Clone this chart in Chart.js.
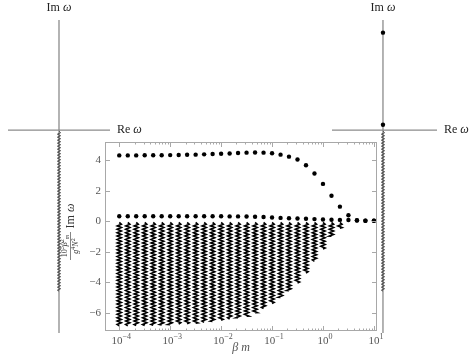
<!DOCTYPE html>
<html>
<head>
<meta charset="utf-8">
<script src="https://cdn.jsdelivr.net/npm/chart.js@4.4.0/dist/chart.umd.min.js"></script>
<style>
  body { margin: 0; background: #fff; }
  #wrap { position: relative; width: 474px; height: 355px; }
  canvas { position: absolute; top: 0; }
</style>
</head>
<body>
<div id="wrap">
  <canvas id="leftPlane" width="160" height="355" style="left:0"></canvas>
  <canvas id="rightPlane" width="154" height="355" style="left:320px"></canvas>
  <canvas id="main" width="474" height="355" style="left:0"></canvas>
</div>
<script>
/* beta m grid (6 per decade) */
const betaM = [
  1e-4, 1.47e-4, 2.15e-4, 3.16e-4, 4.64e-4, 6.81e-4,
  1e-3, 1.47e-3, 2.15e-3, 3.16e-3, 4.64e-3, 6.81e-3,
  1e-2, 1.47e-2, 2.15e-2, 3.16e-2, 4.64e-2, 6.81e-2,
  0.1, 0.147, 0.215, 0.316, 0.464, 0.681,
  1, 1.47, 2.15, 3.16, 4.64, 6.81, 10
];
/* growing modes */
const upperMode = [4.32, 4.32, 4.32, 4.33, 4.33, 4.33, 4.34, 4.35, 4.36, 4.37, 4.39, 4.41, 4.43, 4.45, 4.48, 4.50,
                   4.51, 4.50, 4.46, 4.37, 4.24, 4.05, 3.67, 3.13, 2.45, 1.67, 0.96, 0.39, 0.07, 0.03, 0.03];
const lowerMode = [0.33, 0.33, 0.33, 0.33, 0.33, 0.33, 0.33, 0.33, 0.33, 0.33, 0.33, 0.33, 0.33, 0.32, 0.32, 0.31,
                   0.30, 0.28, 0.25, 0.22, 0.20, 0.18, 0.16, 0.14, 0.12, 0.10, 0.09, 0.08, 0.05, 0.03, 0.03];
/* branch cut (continuum) extent per column */
const cutTop = [-0.08, -0.08, -0.08, -0.08, -0.08, -0.08, -0.08, -0.08, -0.08, -0.08, -0.08, -0.08, -0.08, -0.08,
                -0.08, -0.08, -0.08, -0.08, -0.08, -0.08, -0.08, -0.08, -0.08, -0.08, -0.08, -0.08, -0.08];
const cutBottom = [-6.85, -6.85, -6.84, -6.83, -6.82, -6.80, -6.78, -6.75, -6.72, -6.68, -6.63, -6.57, -6.50, -6.42,
                   -6.33, -6.22, -6.00, -5.73, -5.40, -5.00, -4.55, -4.05, -3.40, -2.62, -1.81, -0.98, -0.45];
const yTicks = [-6, -4, -2, 0, 2, 4];
const xDecades = [-4, -3, -2, -1, 0, 1];

/* sketches of the complex plane */
const planeCutEnd = -1.46;
const rightPoles = [0.885, 0.05];

const SERIF = "'Liberation Serif', 'DejaVu Serif', serif";

function zigzag(ctx, x, y0, y1, amp, half) {
  ctx.beginPath();
  ctx.moveTo(x, y0);
  let s = 1;
  for (let yy = y0 + half; yy < y1; yy += half) {
    ctx.lineTo(x + s * amp, yy);
    s = -s;
  }
  ctx.lineTo(x, y1);
  ctx.stroke();
}

// draw a run of text pieces, each with its own font and vertical shift
function drawParts(ctx, parts, x, y, align) {
  let w = 0;
  parts.forEach(p => { ctx.font = p.font; w += ctx.measureText(p.t).width; });
  let cx = align === 'center' ? x - w / 2 : align === 'right' ? x - w : x;
  ctx.textAlign = 'left';
  ctx.textBaseline = 'middle';
  parts.forEach(p => {
    ctx.font = p.font;
    ctx.fillText(p.t, cx, y + (p.dy || 0));
    cx += ctx.measureText(p.t).width;
  });
}

function omegaLabel(head) {
  return [{ t: head + ' ', font: '12px ' + SERIF }, { t: 'ω', font: 'italic 12px ' + SERIF }];
}

function planePlugin() {
  return {
    id: 'plane',
    beforeDatasetsDraw(chart) {
      const { ctx, chartArea: a, scales: { x, y } } = chart;
      const x0 = x.getPixelForValue(0), y0 = y.getPixelForValue(0);
      ctx.save();
      ctx.strokeStyle = '#8c8c8c';
      ctx.lineWidth = 1.3;
      ctx.beginPath();
      ctx.moveTo(a.left, y0); ctx.lineTo(a.right, y0);
      ctx.moveTo(x0, a.top); ctx.lineTo(x0, a.bottom);
      ctx.stroke();
      ctx.strokeStyle = '#3a3a3a';
      ctx.lineWidth = 0.9;
      zigzag(ctx, x0, y0 + 1, y.getPixelForValue(planeCutEnd), 1.6, 1.5);
      ctx.fillStyle = '#222';
      drawParts(ctx, omegaLabel('Im'), x0, a.top - 12, 'center');
      drawParts(ctx, omegaLabel('Re'), a.right + 7, y0, 'left');
      ctx.restore();
    }
  };
}

function planeChart(id, pad, xMax, poles) {
  return new Chart(document.getElementById(id), {
    type: 'scatter',
    data: {
      datasets: [{
        data: poles.map(v => ({ x: 0, y: v })),
        pointRadius: 2.2,
        backgroundColor: '#000',
        borderWidth: 0
      }]
    },
    options: {
      responsive: false,
      animation: false,
      layout: { padding: pad },
      plugins: { legend: { display: false }, tooltip: { enabled: false } },
      scales: {
        x: { display: false, min: -1, max: xMax },
        y: { display: false, min: -1.84, max: 1 }
      }
    },
    plugins: [planePlugin()]
  });
}

planeChart('leftPlane', { left: 8, right: 50, top: 20, bottom: 22 }, 1, []);
planeChart('rightPlane', { left: 12, right: 37, top: 20, bottom: 22 }, 1.06, rightPoles);

/* main panel: frame, ticks, labels and the branch cuts */
const panel = {
  id: 'panel',
  beforeDatasetsDraw(chart) {
    const { ctx, chartArea: a, scales: { x, y } } = chart;
    ctx.save();
    ctx.fillStyle = '#fff';
    ctx.fillRect(a.left, a.top, a.width, a.height);
    ctx.strokeStyle = '#000';
    ctx.lineWidth = 1.7;
    cutBottom.forEach((b, i) => {
      zigzag(ctx, x.getPixelForValue(betaM[i]), y.getPixelForValue(cutTop[i]), y.getPixelForValue(b), 2, 1.7);
    });
    ctx.restore();
  },
  afterDatasetsDraw(chart) {
    const { ctx, chartArea: a, scales: { x, y } } = chart;
    ctx.save();
    ctx.strokeStyle = '#a8a8a8';
    ctx.lineWidth = 1;
    ctx.strokeRect(a.left + 0.5, a.top + 0.5, a.width - 1, a.height - 1);
    ctx.beginPath();
    xDecades.forEach(d => {
      for (let m = 1; m < 10; m++) {
        const v = m * Math.pow(10, d);
        const px = Math.round(x.getPixelForValue(v)) + 0.5;
        if (px < a.left || px > a.right) continue;
        const len = m === 1 ? 5 : 2.5;
        ctx.moveTo(px, a.bottom); ctx.lineTo(px, a.bottom - len);
        ctx.moveTo(px, a.top); ctx.lineTo(px, a.top + len);
      }
    });
    yTicks.forEach(v => {
      const py = Math.round(y.getPixelForValue(v)) + 0.5;
      ctx.moveTo(a.left, py); ctx.lineTo(a.left + 5, py);
      ctx.moveTo(a.right, py); ctx.lineTo(a.right - 5, py);
    });
    ctx.stroke();

    ctx.fillStyle = '#555';
    yTicks.forEach(v => {
      const t = v < 0 ? '−' + Math.abs(v) : String(v);
      drawParts(ctx, [{ t, font: '11px ' + SERIF }], a.left - 4, y.getPixelForValue(v), 'right');
    });
    xDecades.forEach(d => {
      const e = d < 0 ? '−' + Math.abs(d) : String(d);
      drawParts(ctx, [{ t: '10', font: '11px ' + SERIF }, { t: e, font: '8px ' + SERIF, dy: -4 }],
        x.getPixelForValue(Math.pow(10, d)) + 2, a.bottom + 10, 'center');
    });
    drawParts(ctx, [{ t: 'β m', font: 'italic 12px ' + SERIF }], (a.left + a.right) / 2, a.bottom + 17, 'center');

    // rotated y title: fraction then Im ω
    ctx.translate(70, 238);
    ctx.rotate(-Math.PI / 2);
    ctx.fillStyle = '#333';
    drawParts(ctx, [{ t: '10', font: '8px ' + SERIF }, { t: '5', font: '6px ' + SERIF, dy: -3 },
      { t: 'β', font: 'italic 8px ' + SERIF }, { t: '2', font: '6px ' + SERIF, dy: -3 },
      { t: 'm', font: 'italic 6px ' + SERIF, dy: 2 }], -8, -5, 'center');
    drawParts(ctx, [{ t: 'g', font: 'italic 8px ' + SERIF }, { t: '4', font: '6px ' + SERIF, dy: -3 },
      { t: 'N', font: 'italic 8px ' + SERIF }, { t: '2', font: '6px ' + SERIF, dy: -3 }], -8, 6, 'center');
    ctx.strokeStyle = '#333';
    ctx.lineWidth = 0.6;
    ctx.beginPath();
    ctx.moveTo(-22, 0.5); ctx.lineTo(6, 0.5);
    ctx.stroke();
    drawParts(ctx, omegaLabel('Im'), 22, 1, 'center');
    ctx.restore();
  }
};

new Chart(document.getElementById('main'), {
  type: 'scatter',
  data: {
    datasets: [
      {
        data: betaM.map((b, i) => ({ x: b, y: upperMode[i] })),
        pointRadius: 2.2,
        backgroundColor: '#000',
        borderWidth: 0
      },
      {
        data: betaM.map((b, i) => ({ x: b, y: lowerMode[i] })),
        pointRadius: 2.2,
        backgroundColor: '#000',
        borderWidth: 0
      }
    ]
  },
  options: {
    responsive: false,
    animation: false,
    layout: { padding: { left: 105, right: 97, top: 142, bottom: 24 } },
    plugins: { legend: { display: false }, tooltip: { enabled: false } },
    scales: {
      x: { type: 'logarithmic', display: false, min: 5.25e-5, max: 11.5 },
      y: { type: 'linear', display: false, min: -7.2, max: 5.2 }
    }
  },
  plugins: [panel]
});
</script>
</body>
</html>
